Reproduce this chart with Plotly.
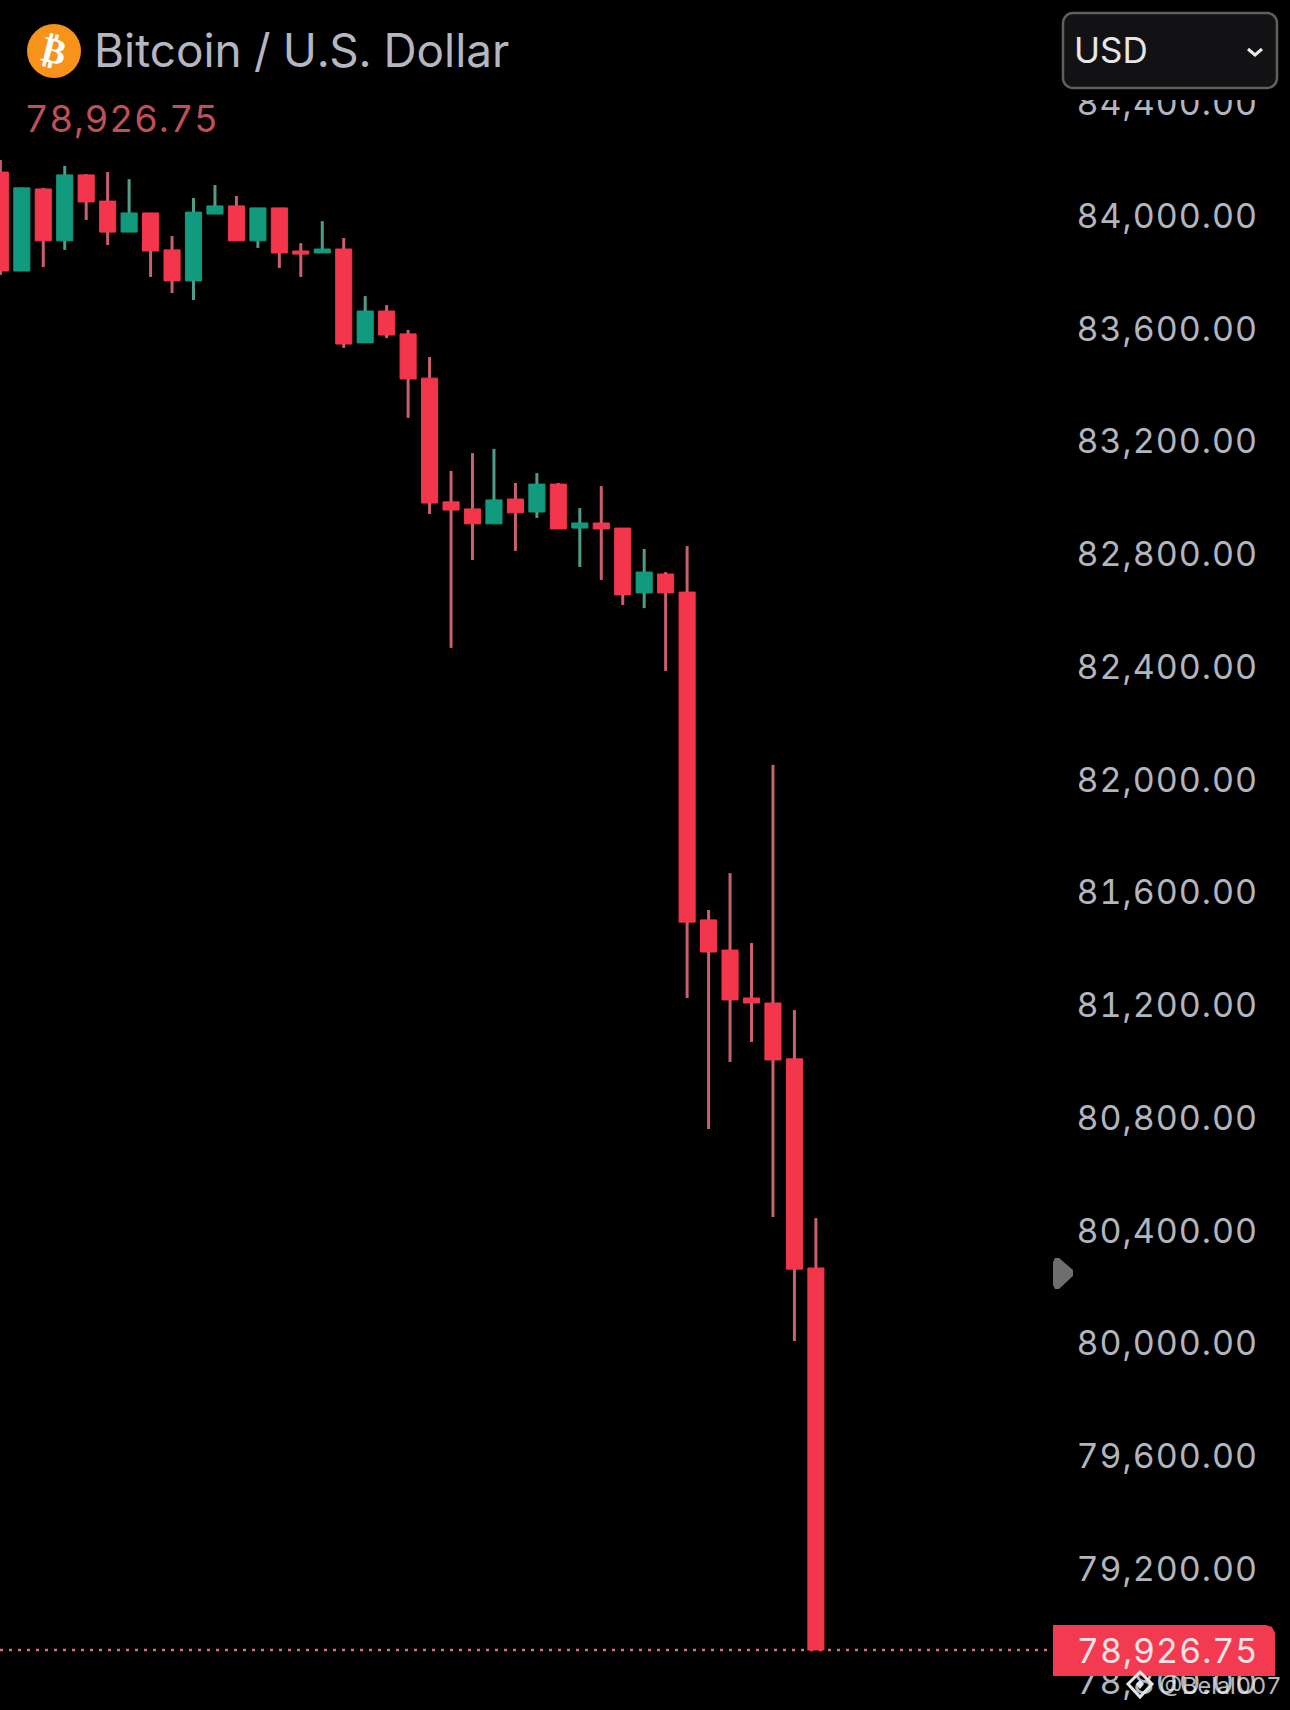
import plotly.graph_objects as go

W, H = 1290, 1710

candle_index = list(range(-1, 38))
open_price = [84170, 83819, 84110, 83926, 84160, 84067, 83957, 84025, 83894, 83784, 84021, 84050, 83926, 84043,
              83890, 83883, 83897, 83564, 83677, 83596, 83439, 83000, 82975, 82922, 83010, 82964, 83063, 82907,
              82925, 82907, 82677, 82744, 82680, 81517, 81410, 81240, 81222, 81024, 80282]
close_price = [83819, 84114, 83926, 84160, 84064, 83957, 84025, 83890, 83784, 84028, 84050, 83926, 84043, 83883,
               83879, 83897, 83560, 83677, 83592, 83436, 82996, 82971, 82922, 83007, 82961, 83063, 82904, 82925,
               82904, 82670, 82751, 82677, 81509, 81403, 81233, 81222, 81020, 80278, 78926.75]
high_price = [84213, 84115, 84114, 84192, 84163, 84170, 84145, 84025, 83943, 84078, 84124, 84085, 84043, 84043,
              83918, 83996, 83936, 83730, 83698, 83610, 83514, 83110, 83173, 83188, 83067, 83102, 83067, 82978,
              83056, 82907, 82833, 82751, 82843, 81552, 81683, 81435, 82067, 81197, 80459]
low_price = [83805, 83819, 83833, 83894, 84000, 83911, 83957, 83798, 83741, 83716, 84021, 83926, 83901, 83830,
             83798, 83883, 83546, 83564, 83581, 83298, 82957, 82482, 82794, 82922, 82826, 82943, 82904, 82769,
             82723, 82634, 82623, 82400, 81240, 80775, 81013, 81084, 80463, 80023, 78926.75]
tick_values = [78800, 79200, 79600, 80000, 80400, 80800, 81200, 81600, 82000, 82400, 82800, 83200, 83600, 84000, 84400]
last_price = 78926.75

RED, GREEN = "#f4364c", "#129a7e"
RED_WICK, GREEN_WICK = "#c9606e", "#4f9c8a"
FONT = "Inter"

px = lambda x: x / W
py = lambda y: 1 - y / H

fig = go.Figure()

def wick_segments(rising):
    xs, ys = [], []
    for i, o, h, l, c in zip(candle_index, open_price, high_price, low_price, close_price):
        if (c >= o) == rising:
            xs += [i, i, None, i, i, None]
            ys += [h, max(o, c), None, min(o, c), l, None]
    return xs, ys

for rising, colour in ((True, GREEN_WICK), (False, RED_WICK)):
    xs, ys = wick_segments(rising)
    fig.add_trace(go.Scatter(x=xs, y=ys, mode="lines", line=dict(color=colour, width=3),
                             showlegend=False, hoverinfo="skip"))

fig.add_trace(go.Candlestick(
    x=candle_index, open=open_price, close=close_price,
    high=[max(o, c) for o, c in zip(open_price, close_price)],
    low=[min(o, c) for o, c in zip(open_price, close_price)],
    increasing=dict(line=dict(color=GREEN, width=1), fillcolor=GREEN),
    decreasing=dict(line=dict(color=RED, width=1), fillcolor=RED),
    whiskerwidth=0, showlegend=False, hoverinfo="skip"))
# carries the labelled price axis
fig.add_trace(go.Scatter(x=[candle_index[0]] * len(tick_values), y=tick_values, yaxis="y2", mode="markers",
                         marker=dict(opacity=0), showlegend=False, hoverinfo="skip"))

def rect(x0, y0, x1, y1, fill, line=None, lw=0):
    return dict(type="rect", xref="paper", yref="paper", x0=px(x0), x1=px(x1), y0=py(y0), y1=py(y1),
                fillcolor=fill, line=dict(color=line or fill, width=lw), layer="above")

def path(points, fill="rgba(0,0,0,0)", line="rgba(0,0,0,0)", lw=0, close=True):
    d = "M " + " L ".join(f"{px(x):.5f} {py(y):.5f}" for x, y in points) + (" Z" if close else "")
    return dict(type="path", xref="paper", yref="paper", path=d, fillcolor=fill,
                line=dict(color=line, width=lw), layer="above")

def rounded(x0, y0, x1, y1, r, fill, line, lw):
    def corner(cx, cy, a0):
        import math
        return [(cx + r * math.cos(math.radians(a0 + i * 15)), cy + r * math.sin(math.radians(a0 + i * 15))) for i in range(7)]
    pts = corner(x1 - r, y0 + r, -90) + corner(x1 - r, y1 - r, 0) + corner(x0 + r, y1 - r, 90) + corner(x0 + r, y0 + r, 180)
    return path(pts, fill, line, lw)

shapes = [
    # dotted last-price line
    dict(type="line", xref="paper", yref="y", x0=0, x1=px(1053), y0=last_price, y1=last_price,
         line=dict(color="#d8707a", width=2.5, dash="3px 6px"), layer="below"),
    # header mask clipping the scale
    rect(0, 0, W, 100, "#000000"),
    # coin
    dict(type="circle", xref="paper", yref="paper", x0=px(27), x1=px(81), y0=py(24), y1=py(78),
         fillcolor="#f7931a", line=dict(width=0), layer="above"),
    # currency selector
    rounded(1063, 13, 1277, 88, 10, "#121214", "#5f5f5f", 2.5),
    path([(1248, 49), (1255, 55), (1262, 49)], line="#e8e8e8", lw=3, close=False),
    # price flag
    path([(1053, 1625), (1266, 1625), (1272, 1627), (1275, 1633), (1275, 1676), (1053, 1676)], fill="#f23a50"),
    # scale handle
    path([(1053, 1262), (1055, 1258), (1059, 1258), (1073, 1270), (1073, 1276), (1059, 1289), (1055, 1289), (1053, 1285)],
         fill="#6e6e6e"),
    # watermark mark
    path([(1140, 1672), (1152, 1684), (1140, 1697), (1128, 1684)], line="#e6e6e6", lw=3),
    path([(1140, 1680), (1144, 1684), (1140, 1689), (1136, 1684)], fill="#e6e6e6"),
]

def text(x, y, s, size, color, anchor="left", angle=0, family=FONT):
    return dict(xref="paper", yref="paper", x=px(x), y=py(y), text=s, showarrow=False, xanchor=anchor, yanchor="middle",
                font=dict(family=family, size=size, color=color), textangle=angle, align=anchor)

annotations = [
    text(54, 51, "<b>₿</b>", 36, "#ffffff", "center", 14, "DejaVu Sans"),
    text(92, 51, "Bitcoin / U.S. Dollar", 45.9, "#b4b7c1"),
    text(121, 118, f"{last_price:,.2f}", 37, "#bf4f59", "center"),
    text(1072, 50, "USD", 35, "#e6e6e6"),
    text(1167, 1650, f"{last_price:,.2f}", 34, "#fbe3e6", "center"),
    text(1220, 1685, "@Belal007", 23.5, "rgba(235,235,235,0.8)", "center"),
]

fig.update_layout(
    width=W, height=H, margin=dict(l=0, r=0, t=0, b=0), paper_bgcolor="#000000", plot_bgcolor="#000000",
    boxgap=0.25, boxgroupgap=0, boxmode="overlay", showlegend=False, shapes=shapes, annotations=annotations,
    xaxis=dict(domain=[0, 1261 / W], range=[-1.016, 57.74], visible=False, rangeslider=dict(visible=False), fixedrange=True),
    yaxis=dict(range=[78713.9, 84780.5], visible=False, fixedrange=True),
    yaxis2=dict(overlaying="y", side="right", anchor="x", range=[78699.7, 84766.3], tickvals=tick_values,
                tickformat=",.2f", ticklabelposition="inside", showgrid=False, zeroline=False, showline=False,
                ticks="", tickfont=dict(family=FONT, size=34, color="#b2b5be"), fixedrange=True),
)

css = (".y2tick text,.annotation-text{font-feature-settings:'tnum' 1;}"
       ".y2tick text,.annotation[data-index='4'] text{letter-spacing:1px;}"
       ".annotation[data-index='2'] text{letter-spacing:0.7px;}")
fig.write_html("out.html", config=dict(displayModeBar=False),
               post_script="document.body.style.margin='0';document.body.style.background='#000';"
                           "document.documentElement.style.overflow='hidden';"
                           "var s=document.createElement('style');s.textContent=\"" + css + "\";document.head.appendChild(s);")
